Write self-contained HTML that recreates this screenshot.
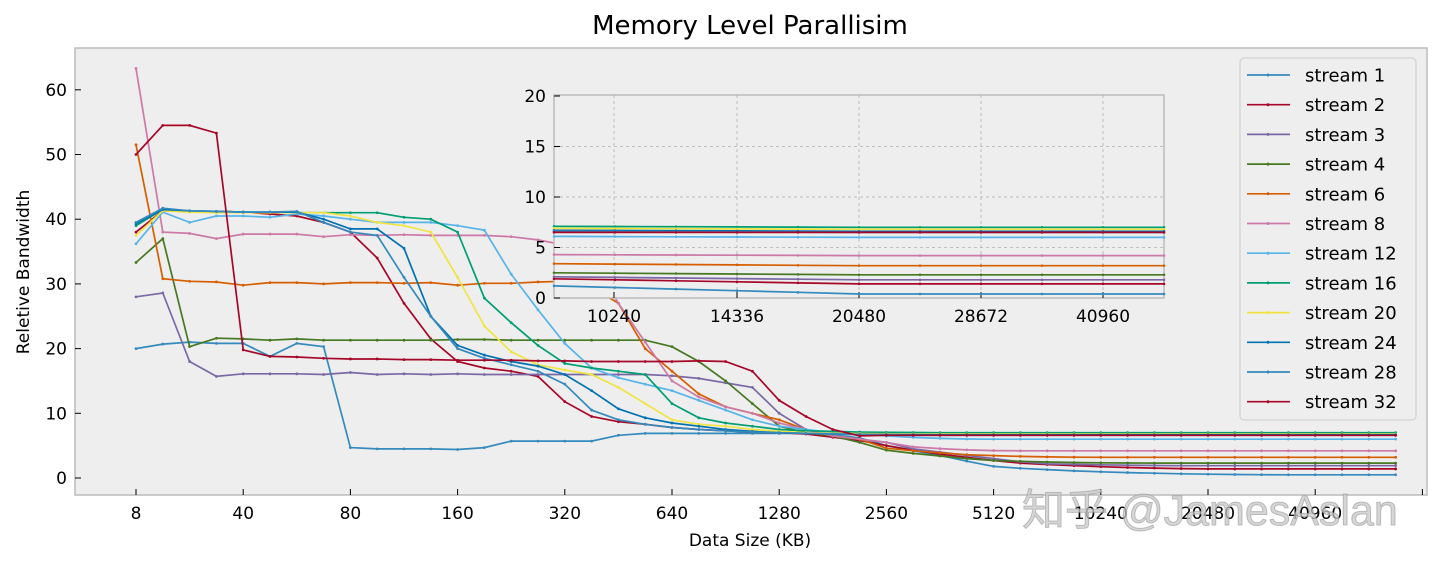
<!DOCTYPE html>
<html><head><meta charset="utf-8"><style>
body{margin:0;background:#fff;}
svg{display:block;font-family:"DejaVu Sans","Liberation Sans","Noto Sans CJK SC",sans-serif;}
</style></head><body>
<svg id="s" width="1440" height="565" xmlns="http://www.w3.org/2000/svg">
<rect x="75" y="48" width="1352" height="447" fill="#eeeeee" stroke="#bcbcbc" stroke-width="1.5"/>
<text x="750" y="34" font-size="26" text-anchor="middle" fill="#000">Memory Level Parallisim</text>
<text x="750" y="546" font-size="17" text-anchor="middle">Data Size (KB)</text>
<text transform="translate(29,272) rotate(-90)" font-size="17" text-anchor="middle">Reletive Bandwidth</text>
<g id="main"></g>
<g id="inset"></g>
<g id="legend"></g>
<text x="1022" y="525" font-size="43" fill="#c8c8c8" fill-opacity="0.75" stroke="#999" stroke-width="1" stroke-opacity="0.6" font-family="'Liberation Sans','Noto Sans CJK SC',sans-serif">知乎 @JamesAslan</text>
</svg>
<script>
const NS="http://www.w3.org/2000/svg";
function el(p,t,a,txt){const e=document.createElementNS(NS,t);for(const k in a)e.setAttribute(k,a[k]);if(txt!==undefined)e.textContent=txt;p.appendChild(e);return e;}
const main=document.getElementById('main');
const X=i=>136+26.8*i, Y=v=>478-6.47*v;
for(let v=0;v<=60;v+=10){el(main,'line',{x1:75,x2:81,y1:Y(v),y2:Y(v),stroke:'#000','stroke-width':1});
 el(main,'text',{x:67,y:Y(v)+6,'font-size':17,'text-anchor':'end'},v);}
const xl=[8,40,80,160,320,640,1280,2560,5120,10240,20480,40960];
for(let k=0;k<=12;k++){const x=X(4*k);el(main,'line',{x1:x,x2:x,y1:495,y2:489,stroke:'#000','stroke-width':1});
 if(k<12)el(main,'text',{x:x,y:519,'font-size':17,'text-anchor':'middle'},xl[k]);}
const C=['#348ABD','#A60628','#7A68A6','#467821','#D55E00','#CC79A7','#56B4E9','#009E73','#F0E442','#0072B2','#348ABD','#A60628'];
const names=['stream 1','stream 2','stream 3','stream 4','stream 6','stream 8','stream 12','stream 16','stream 20','stream 24','stream 28','stream 32'];
function tail(arr,fin,n){const a=arr.slice();let last=a[a.length-1];const m=a.length;for(let i=m;i<48;i++){const t=Math.min(1,(i-m+1)/(n||5));a.push(last+(fin-last)*(1-Math.pow(1-t,2)));}return a;}
const D=[
 tail([20,20.7,21,20.8,20.8,18.8,20.8,20.3,4.7,4.5,4.5,4.5,4.4,4.7,5.7,5.7,5.7,5.7,6.6,6.9,6.9,6.9,6.9,6.9,6.9,6.9,6.7,6.2,5,4.2,3.5,2.6,1.8,1.5,1.3,1.1],0.5,8),
 tail([38,41.3,41.2,41.2,41.1,40.8,40.5,39.5,38,34,27,21.5,18,17,16.5,15.7,11.8,9.5,8.7,8.3,7.8,7.5,7.3,7.1,7,6.8,6.3,5.8,5,4.3,3.7,3.2,2.7,2.3],1.4,8),
 tail([28,28.6,18,15.7,16.1,16.1,16.1,16,16.3,16,16.1,16,16.1,16,16,16,16,16,16,16,15.8,15.4,14.7,14,10,7.5,6.5,6,5.5,4.5,4,3.5,3,2.5,2.2],1.9,6),
 tail([33.3,37,20.3,21.6,21.5,21.3,21.5,21.3,21.3,21.3,21.3,21.3,21.4,21.4,21.3,21.3,21.3,21.3,21.3,21.3,20.3,18,15,11.5,8,7,6.5,5.5,4.3,3.8,3.4,3,2.7],2.3,6),
 tail([51.5,30.8,30.4,30.3,29.8,30.2,30.2,30,30.2,30.2,30.1,30.2,29.8,30.1,30.1,30.3,30.4,29.5,27,20,16.5,13,11,10,9,7.5,6.5,6,4.6,4.2,3.9,3.6],3.2,5),
 tail([63.3,38,37.8,37,37.7,37.7,37.7,37.3,37.6,37.5,37.6,37.5,37.5,37.5,37.3,36.8,36,34,27,21,15,12.5,11,10,8.5,7.5,6.5,6,5.5,4.8],4.2,4),
 tail([36.2,41.1,39.5,40.5,40.5,40.3,40.8,40.5,40,39.5,39.5,39.5,39,38.3,31.5,26,20.8,17,15.5,14.5,13.5,12,10.5,9,8,7.5,7,6.8,6.5],6.0,4),
 tail([39,41.5,41.2,41.2,41.1,41,41,41,41,41,40.3,40,38,27.8,24,20.5,17.7,17,16.5,16,11.5,9.3,8.5,8,7.5,7.3,7.2,7.1],7.0,4),
 tail([37.5,41.3,41.1,41,41,41,41,41,40.5,39.5,39,38,31,23.5,19.5,17.5,16.7,16,14,11.5,9,8.3,8,7.5,7.2,7,6.9],6.8,4),
 tail([39.3,41.5,41.3,41.2,41.1,41.1,41.1,40,38.5,38.5,35.5,25,20.5,19,18,17.3,16,13.5,10.7,9.3,8.5,8,7.5,7.2,7,6.9,6.8],6.7,4),
 tail([39.5,41.7,41.3,41.2,41.1,41.1,41.2,39.5,38,37.5,31,25,20,18.5,17.5,16.5,14.5,10.5,9,8.3,7.8,7.5,7.3,7.1,7,6.9,6.8],6.6,4),
 tail([50,54.5,54.5,53.3,19.8,18.8,18.7,18.5,18.4,18.4,18.3,18.3,18.2,18.2,18.2,18.1,18.1,18,18,18,18,18.1,18,16.5,12,9.5,7.5,6.5,6.6],6.6,4)
];
D.forEach((d,k)=>{const pts=d.map((v,i)=>X(i).toFixed(1)+','+Y(v).toFixed(1)).join(' ');
 el(main,'polyline',{points:pts,fill:'none',stroke:C[k],'stroke-width':1.7});
 d.forEach((v,i)=>el(main,'circle',{cx:X(i),cy:Y(v),r:1.4,fill:C[k]}));});
const ins=document.getElementById('inset');
const IY=v=>298-10.1*v;
el(ins,'rect',{x:554,y:95,width:610,height:203,fill:'#eeeeee',stroke:'#bcbcbc','stroke-width':1.5});
[614,737,859,981,1103].forEach((x,k)=>{el(ins,'line',{x1:x,x2:x,y1:95,y2:298,stroke:'#b0b0b0','stroke-dasharray':'3,3','stroke-width':0.8});
 el(ins,'line',{x1:x,x2:x,y1:298,y2:292,stroke:'#000'});
 el(ins,'text',{x:x,y:322,'font-size':17,'text-anchor':'middle'},['10240','14336','20480','28672','40960'][k]);});
[0,5,10,15,20].forEach(v=>{if(v>0&&v<20)el(ins,'line',{x1:554,x2:1164,y1:IY(v),y2:IY(v),stroke:'#b0b0b0','stroke-dasharray':'3,3','stroke-width':0.8});
 el(ins,'line',{x1:554,x2:560,y1:IY(v),y2:IY(v),stroke:'#000'});
 el(ins,'text',{x:546,y:IY(v)+6,'font-size':17,'text-anchor':'end'},v);});
const IV=[[1.2,0.4],[1.9,1.4],[2.1,1.8],[2.5,2.3],[3.4,3.2],[4.3,4.2],[6.1,6.0],[7.1,7.0],[6.9,6.8],[6.7,6.6],[6.6,6.5],[6.5,6.5]];
IV.forEach((p,k)=>{let pts=[];for(let j=0;j<=10;j++){const x=554+61*j;const v=p[0]+(p[1]-p[0])*Math.min(1,j/5);pts.push(x+','+IY(v).toFixed(1));
 el(ins,'circle',{cx:x,cy:IY(v),r:1.3,fill:C[k]});}
 el(ins,'polyline',{points:pts.join(' '),fill:'none',stroke:C[k],'stroke-width':1.7});});
const lg=document.getElementById('legend');
el(lg,'rect',{x:1240,y:58,width:176,height:362,rx:4,fill:'#eeeeee',stroke:'#cccccc','stroke-width':1});
names.forEach((n,k)=>{const y=75+29.7*k;
 el(lg,'line',{x1:1247,x2:1290,y1:y,y2:y,stroke:C[k],'stroke-width':1.7});
 el(lg,'circle',{cx:1268,cy:y,r:1.5,fill:C[k]});
 el(lg,'text',{x:1305,y:y+6.5,'font-size':18},n);});
</script>
</body></html>
